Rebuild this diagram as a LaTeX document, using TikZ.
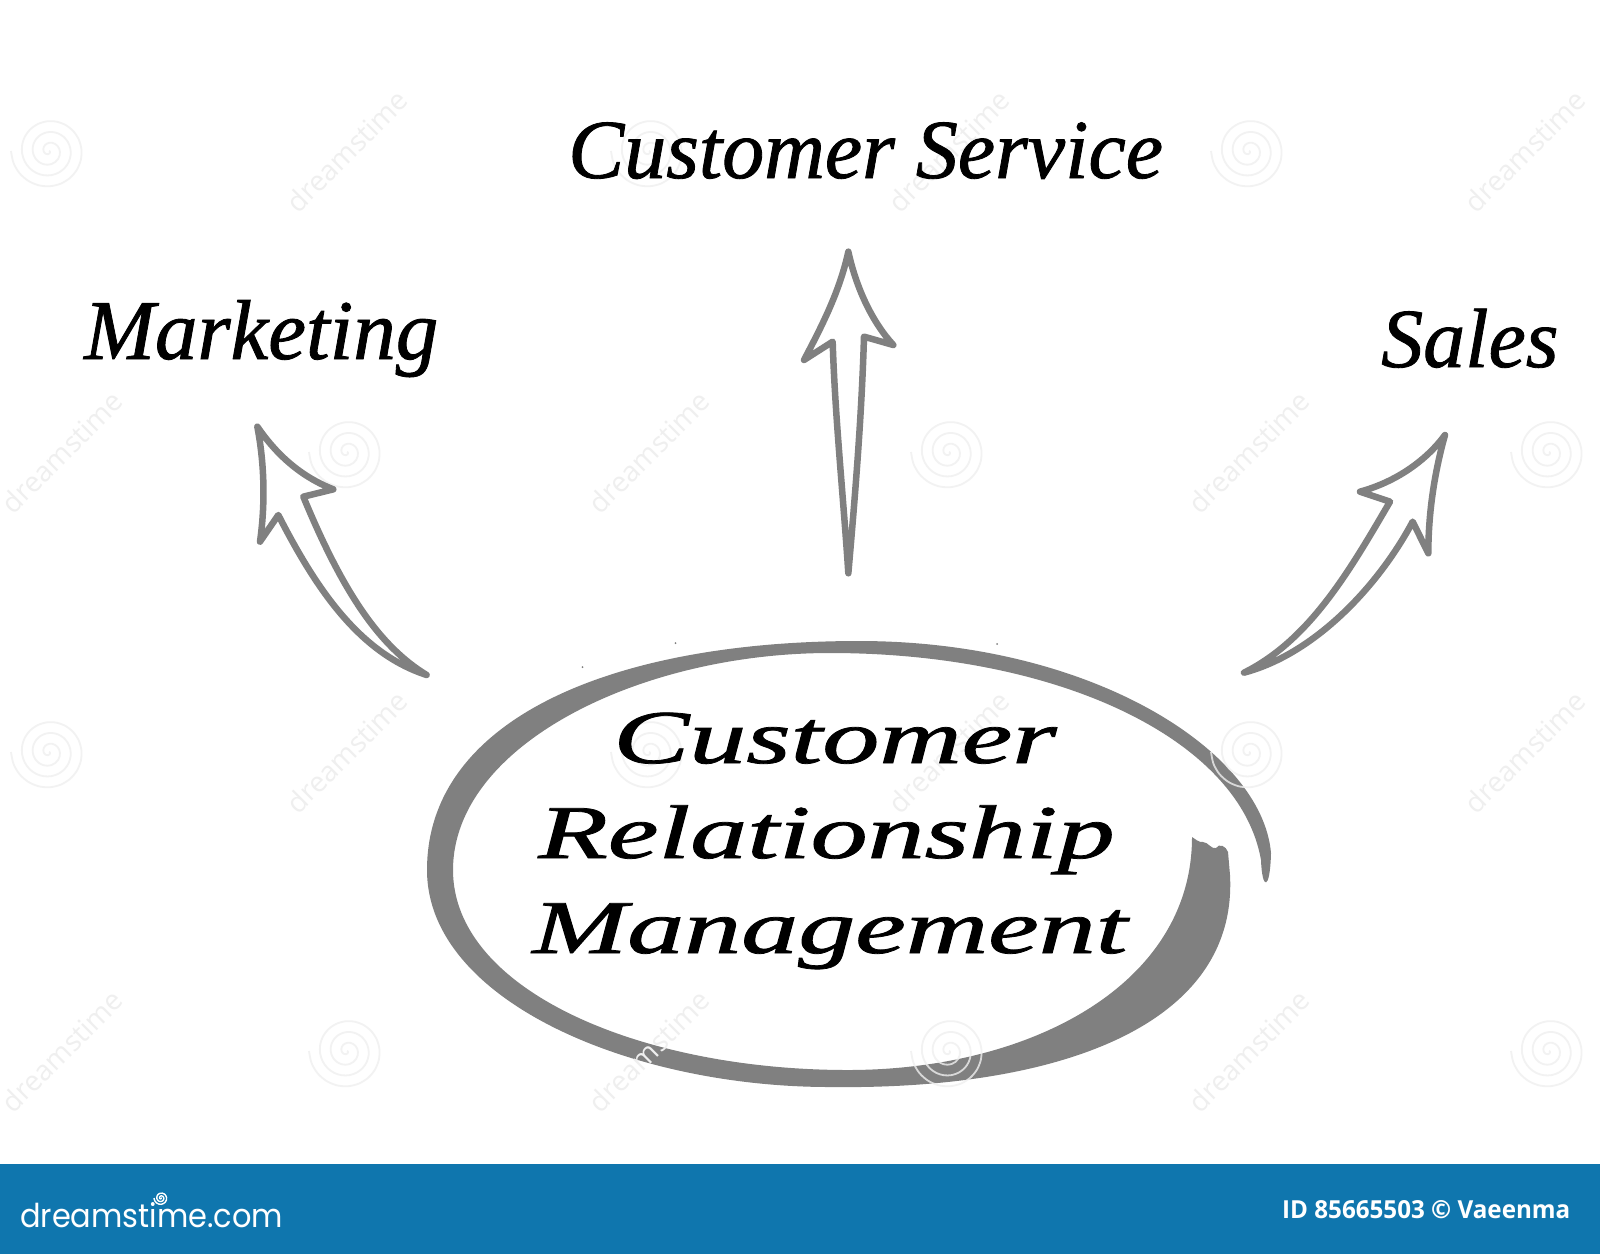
\documentclass[tikz,border=0pt]{standalone}
\usepackage{fontspec}
\setmainfont{Liberation Serif}
\newfontfamily\crmfont[UprightFont=* Italic,FakeBold=1]{Liberation Serif}
\newfontfamily\logofont{Poppins}
\newfontfamily\idfont{Open Sans}
\definecolor{sketchgray}{HTML}{808080}
\definecolor{bandblue}{HTML}{0F76AE}
\definecolor{wmgray}{HTML}{EFEFEF}
\tikzset{
  label85/.style={anchor=base west,inner sep=0pt,font=\crmfont\fontsize{84}{90}\selectfont},
  crmline/.style={anchor=base west,inner sep=0pt,font=\crmfont\fontsize{76}{80}\selectfont,xscale=1.5,transform shape},
  sketcharrow/.style={draw=sketchgray,line width=6.5pt,line join=round,line cap=round,fill=white},
  wmtext/.style={text=wmgray,rotate=45,inner sep=0pt,font=\idfont\fontsize{28}{28}\selectfont},
  wmspiral/.pic={
    \draw[wmgray,line width=1.8pt,opacity=.8] plot[smooth,domain=0:1260,samples=70,variable=\t]
      ({(\t/1260*38)*cos(\t)},{(\t/1260*38)*sin(\t)});
  }
}
\begin{document}
\begin{tikzpicture}[x=1pt,y=-1pt]
\useasboundingbox (0,0) rectangle (1600,1254);
\fill[white] (0,0) rectangle (1600,1254);
% ellipse brush stroke
\fill[sketchgray] (1271,853)
  .. controls (1262,750) and (1090,641) .. (859,641)
  .. controls (610,641) and (427,720) .. (427,870)
  .. controls (427,1000) and (630,1087) .. (830,1087)
  .. controls (1060,1090) and (1238,1025) .. (1230,875)
  -- (1228,852)
  .. controls (1226,846) and (1219,843) .. (1216,848)
  .. controls (1212,850) and (1208,842) .. (1203,842)
  .. controls (1199,843) and (1194,838) .. (1192,837)
  .. controls (1192,985) and (1030,1070) .. (848,1070)
  .. controls (640,1070) and (453,990) .. (453,870)
  .. controls (453,745) and (640,653) .. (830,653)
  .. controls (1060,653) and (1240,740) .. (1261,860)
  .. controls (1262,890) and (1270,892) .. (1271,853) -- cycle;
\fill[sketchgray] (675.5,643) circle (1pt) (997,644) circle (1pt) (582.5,667) circle (1pt);
% watermarks
\foreach \px/\py in {49/151,649/151,1249/151,49/752,649/752,1249/752,347/452,949/452,1549/452,347/1051,949/1051,1549/1051}
  \pic at (\px,\py) {wmspiral};
\foreach \px/\py [count=\i] in {347/151,949/151,1525/151,62/452,649/452,1249/452,347/752,949/752,1525/752,62/1051,649/1051,1249/1051}
  \node[wmtext] (wm\i) at (\px,\py) {dreamstime};
% left arrow
\begin{scope}[shift={(220,400)},x=0.3333pt,y=-0.3333pt]
\draw[sketcharrow] (620,825) .. controls (480,740) and (370,580) .. (250,290)
  -- (340,268) .. controls (230,225) and (160,150) .. (112,80)
  .. controls (135,200) and (135,320) .. (120,425) -- (175,345)
  .. controls (290,570) and (420,760) .. (620,825) -- cycle;
\end{scope}
% middle arrow
\begin{scope}[shift={(780,230)},x=0.3333pt,y=-0.3333pt]
\draw[sketcharrow] (205,1030) .. controls (225,800) and (245,560) .. (252,320)
  -- (340,345) .. controls (280,280) and (230,180) .. (205,65)
  .. controls (180,180) and (130,280) .. (72,390) -- (158,335)
  .. controls (165,560) and (190,800) .. (205,1030) -- cycle;
\end{scope}
% right arrow
\begin{scope}[shift={(1220,410)},x=0.3333pt,y=-0.3333pt]
\draw[sketcharrow] (72,788) .. controls (270,690) and (390,480) .. (510,275)
  -- (420,245) .. controls (530,215) and (620,150) .. (675,75)
  .. controls (640,200) and (625,320) .. (625,430) -- (578,335)
  .. controls (480,520) and (290,730) .. (72,788) -- cycle;
\end{scope}
% labels
\node[label85] (service) at (568,178) {Customer Service};
\node[label85,font=\crmfont\fontsize{85}{90}\selectfont] (marketing) at (84,359) {Marketing};
\node[label85] (sales) at (1381,367) {Sales};
\node[crmline] (crm1) at (613,763) {Customer};
\node[crmline] (crm2) at (538,858) {Relationship};
\node[crmline] (crm3) at (532,953) {Management};
% footer band
\fill[bandblue] (0,1164) rectangle (1600,1254);
\node[anchor=base west,inner sep=0pt,text=white] (logo) at (20,1227) {\resizebox{263pt}{25pt}{\logofont dreamstime.com}};
\draw[white,line width=1.4pt] plot[smooth,domain=0:900,samples=40,variable=\t]
  ({161+(\t/900*7)*cos(\t)},{1198+(\t/900*7)*sin(\t)});
\node[anchor=base west,inner sep=0pt,text=white] (idtext) at (1282,1218) {\resizebox{288pt}{18pt}{\idfont\bfseries ID 85665503 © Vaeenma}};
\end{tikzpicture}
\end{document}
